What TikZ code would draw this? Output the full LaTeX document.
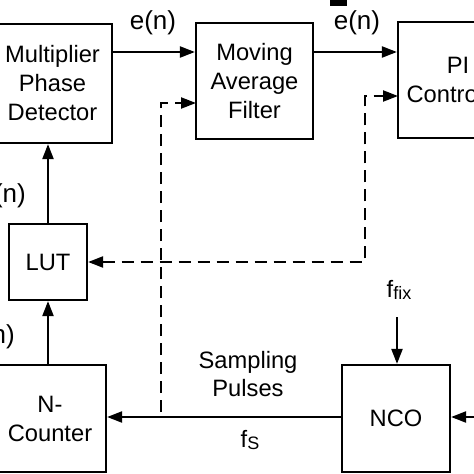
\documentclass[tikz,border=0pt]{standalone}
\usepackage{fontspec}
\setmainfont{Liberation Sans}
\usetikzlibrary{arrows.meta}
\newcommand{\sbs}[1]{\raisebox{-2pt}{\fontsize{18}{18}\selectfont #1}}

\begin{document}
\begin{tikzpicture}[x=1pt,y=-1pt,
                        blok/.style={draw,line width=2.2pt,inner sep=0pt,align=center,font=\fontsize{23.7}{29}\selectfont},
                        arr/.style={line width=2.2pt,-{Triangle[length=15pt,width=11pt]}},
                        duo/.style={line width=2.2pt,{Triangle[length=15pt,width=11pt]}-{Triangle[length=15pt,width=11pt]}},
                        dsh/.style={dash pattern=on 12pt off 7pt},
                        lbl/.style={font=\fontsize{23.7}{28}\selectfont,align=center,inner sep=0pt},
                        sig/.style={font=\fontsize{26}{30}\selectfont,anchor=base,inner sep=0pt}]
                        \useasboundingbox (0,0) rectangle (474,474);
                        \node[blok,minimum width=119pt,minimum height=119pt] (mpd) at (52.5,83.5) {Multiplier\\Phase\\Detector};
                        \node[blok,minimum width=117pt,minimum height=116pt] (maf) at (254.5,81) {Moving\\Average\\Filter};
                        \node[blok,minimum width=120pt,minimum height=116pt] (pi) at (458,80) {PI\\Controller};
                        \node[blok,minimum width=78pt,minimum height=76pt] (lut) at (48,262) {LUT};
                        \node[blok,minimum width=112pt,minimum height=107pt] (cnt) at (50,418.5) {N-\\Counter};
                        \node[blok,minimum width=108pt,minimum height=107pt] (nco) at (396,418.5) {NCO};
                        \node[sig] (en) at (153,29) {e(n)};
                        \node[sig] (ebar) at (357,29) {\rlap{\kern-4pt\rule[23pt]{17pt}{6pt}}e(n)};
                        \node[sig,anchor=base east] (rn) at (26,202) {r(n)};
                        \node[sig,anchor=base east] (kn) at (15,343) {k(n)};
                        \node[lbl] (smp) at (248,374) {Sampling\\Pulses};
                        \node[lbl] (fs) at (250,440) {f\sbs{S}};
                        \node[lbl] (ffix) at (399,290) {f\sbs{fix}};
                        \coordinate (tap) at (161,412);
                        \coordinate (mafin) at (196,103);
                        \coordinate (piin) at (398,96);
                        \coordinate (turn) at (365,262);
                        \coordinate (fin) at (397,317);
                        \coordinate (ext) at (490,417);
                        \draw[arr] (mpd.east |- 0,52) -- (maf.west |- 0,52);
                        \draw[arr] (maf.east |- 0,52) -- (pi.west |- 0,52);
                        \draw[arr] (lut.north) -- (lut.north |- mpd.south);
                        \draw[arr] (lut.south |- cnt.north) -- (lut.south);
                        \draw[arr] (nco.west |- 0,417) -- (cnt.east |- 0,417);
                        \draw[arr] (fin) -- (fin |- nco.north);
                        \draw[arr] (ext) -- (nco.east |- ext);
                        \draw[arr,dsh] (tap) |- (mafin);
                        \draw[duo,dsh] (lut.east) -- (turn) |- (piin);
                    \end{tikzpicture}
\end{document}
